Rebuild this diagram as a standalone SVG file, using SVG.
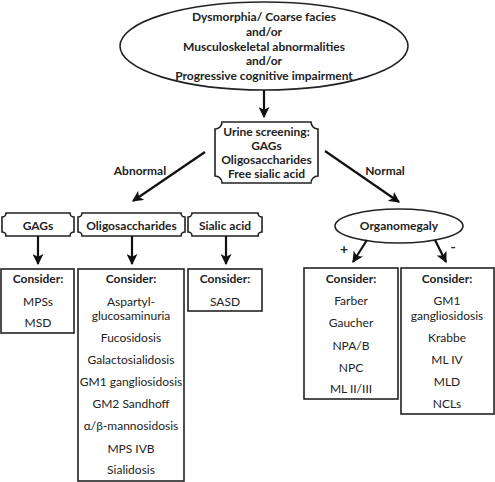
<svg xmlns="http://www.w3.org/2000/svg" width="495" height="482" viewBox="0 0 495 482">
<defs>
<marker id="ah" viewBox="0 0 10 10" refX="9" refY="5" markerWidth="5" markerHeight="5" orient="auto" markerUnits="strokeWidth">
<path d="M0,0 L10,5 L0,10 L2.5,5 z" fill="#111"/>
</marker>
</defs>
<style>
.t{font-family:Lato,"Liberation Sans",sans-serif;font-size:12px;fill:#222;text-anchor:middle}
.b{font-weight:bold}
.s{fill:#fff;stroke:#222;stroke-width:1.6}
.c{stroke:#111;stroke-width:2.2;fill:none;marker-end:url(#ah)}
</style>
<rect width="495" height="482" fill="#fff"/>
<g id="start">
<ellipse class="s" cx="264" cy="46" rx="144" ry="44"/>
<text class="t b" x="264" y="21">Dysmorphia/ Coarse facies</text>
<text class="t b" x="264" y="36">and/or</text>
<text class="t b" x="264" y="51">Musculoskeletal abnormalities</text>
<text class="t b" x="264" y="65">and/or</text>
<text class="t b" x="264" y="80">Progressive cognitive impairment</text>
</g>
<g id="urine">
<path class="s" d="M222,122 H311 A7,7 0 0 0 318,129 V176 A7,7 0 0 0 311,183 H222 A7,7 0 0 0 215,176 V129 A7,7 0 0 0 222,122 Z"/>
<text class="t b" x="266.5" y="136">Urine screening:</text>
<text class="t b" x="266.5" y="150">GAGs</text>
<text class="t b" x="266.5" y="164">Oligosaccharides</text>
<text class="t b" x="266.5" y="178">Free sialic acid</text>
</g>
<g id="gags">
<path class="s" d="M6,213 H70 A4,4 0 0 0 74,217 V232 A4,4 0 0 0 70,236 H6 A4,4 0 0 0 2,232 V217 A4,4 0 0 0 6,213 Z"/>
<text class="t b" x="38" y="230">GAGs</text>
</g>
<g id="oligo">
<path class="s" d="M82,213 H181 A4,4 0 0 0 185,217 V232 A4,4 0 0 0 181,236 H82 A4,4 0 0 0 78,232 V217 A4,4 0 0 0 82,213 Z"/>
<text class="t b" x="131.5" y="230">Oligosaccharides</text>
</g>
<g id="sialic">
<path class="s" d="M192,213 H258 A4,4 0 0 0 262,217 V232 A4,4 0 0 0 258,236 H192 A4,4 0 0 0 188,232 V217 A4,4 0 0 0 192,213 Z"/>
<text class="t b" x="225" y="230">Sialic acid</text>
</g>
<g id="organomegaly">
<ellipse class="s" cx="399" cy="226" rx="64" ry="17"/>
<text class="t b" x="399" y="230">Organomegaly</text>
</g>
<g id="consider-gags">
<rect class="s" x="1" y="269" width="73" height="64"/>
<text class="t b" x="38" y="283">Consider:</text>
<text class="t" x="38" y="306">MPSs</text>
<text class="t" x="38" y="327">MSD</text>
</g>
<g id="consider-oligo">
<rect class="s" x="78" y="269" width="106" height="212"/>
<text class="t b" x="131" y="283">Consider:</text>
<text class="t" x="131" y="306">Aspartyl-</text>
<text class="t" x="131" y="320">glucosaminuria</text>
<text class="t" x="131" y="342">Fucosidosis</text>
<text class="t" x="131" y="364">Galactosialidosis</text>
<text class="t" x="131" y="386">GM1 gangliosidosis</text>
<text class="t" x="131" y="408">GM2 Sandhoff</text>
<text class="t" x="131" y="430">α/β-mannosidosis</text>
<text class="t" x="131" y="453">MPS IVB</text>
<text class="t" x="131" y="474">Sialidosis</text>
</g>
<g id="consider-sialic">
<rect class="s" x="188" y="269" width="74" height="42"/>
<text class="t b" x="225" y="283">Consider:</text>
<text class="t" x="225" y="306">SASD</text>
</g>
<g id="consider-pos">
<rect class="s" x="304" y="268" width="94" height="131"/>
<text class="t b" x="351" y="283">Consider:</text>
<text class="t" x="351" y="305">Farber</text>
<text class="t" x="351" y="327">Gaucher</text>
<text class="t" x="351" y="350">NPA/B</text>
<text class="t" x="351" y="372">NPC</text>
<text class="t" x="351" y="393">ML II/III</text>
</g>
<g id="consider-neg">
<rect class="s" x="401" y="268" width="93" height="146"/>
<text class="t b" x="447" y="283">Consider:</text>
<text class="t" x="447" y="305">GM1</text>
<text class="t" x="447" y="320">gangliosidosis</text>
<text class="t" x="447" y="342">Krabbe</text>
<text class="t" x="447" y="364">ML IV</text>
<text class="t" x="447" y="386">MLD</text>
<text class="t" x="447" y="408">NCLs</text>
</g>
<g id="connectors">
<line class="c" x1="264" y1="90" x2="264" y2="117"/>
<line class="c" x1="205" y1="152" x2="133" y2="201"/>
<line class="c" x1="325" y1="151" x2="399" y2="202"/>
<line class="c" x1="38" y1="236" x2="38" y2="264"/>
<line class="c" x1="132" y1="236" x2="132" y2="264"/>
<line class="c" x1="226" y1="236" x2="226" y2="264"/>
<line class="c" x1="367" y1="240" x2="353" y2="262"/>
<line class="c" x1="435" y1="240" x2="446" y2="262"/>
<text class="t b" x="140" y="175">Abnormal</text>
<text class="t b" x="385" y="175">Normal</text>
<text class="t b" x="344" y="254" style="font-size:14px">+</text>
<text class="t b" x="453" y="252" style="font-size:14px">-</text>
</g>
</svg>
